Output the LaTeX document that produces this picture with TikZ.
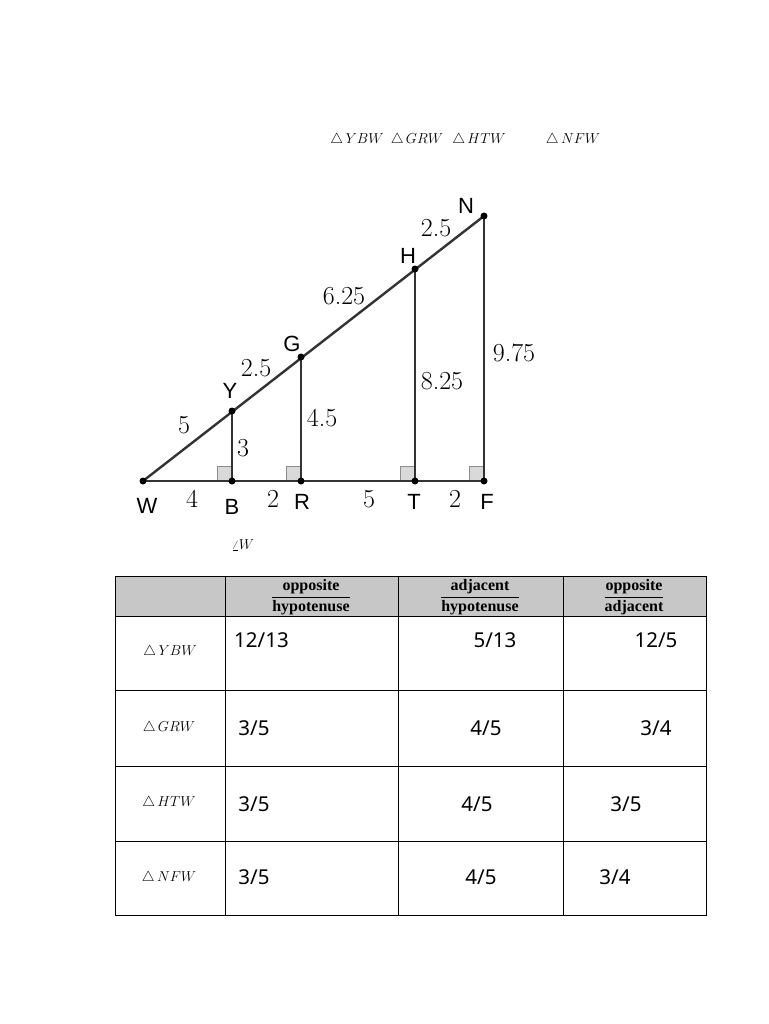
\documentclass[tikz,border=0pt]{standalone}
\usepackage{fontspec}
\setsansfont{Liberation Sans}
\newfontfamily\datafont{Noto Sans}
\newfontfamily\hdrfont{Liberation Serif}
\newcommand{\hfrac}[2]{\begin{tabular}{@{}c@{}}#1\\[2pt]\hline\rule{0pt}{14pt}#2\end{tabular}}
\begin{document}
\begin{tikzpicture}[x=1pt,y=-1pt,
  seg/.style={draw=black!80,line width=2.4pt},
  dotpt/.style={circle,fill=black,inner sep=0pt,minimum size=7pt},
  ptlabel/.style={font=\sffamily\fontsize{22}{22}\selectfont,inner sep=0pt},
  numlabel/.style={font=\fontsize{26}{26}\selectfont,inner sep=0pt},
  rtbox/.style={fill=black!15,draw=black!45,line width=0.6pt},
  toptri/.style={font=\fontsize{13.5}{13.5}\selectfont,inner sep=0pt},
  rowlab/.style={font=\fontsize{14}{14}\selectfont,inner sep=0pt},
  hdr/.style={font=\hdrfont\bfseries\fontsize{16}{16}\selectfont,inner sep=0pt},
  cell/.style={font=\datafont\fontsize{20.5}{20.5}\selectfont,inner sep=0pt},
  grid/.style={draw=black,line width=0.9pt}]
\useasboundingbox (0,0) rectangle (768,1024);
\fill[white] (0,0) rectangle (768,1024);

% header triangle names
\node[toptri] (t1) at (357,140) {$\triangle\,YBW$};
\node[toptri] (t2) at (417,140) {$\triangle\,GRW$};
\node[toptri] (t3) at (479,140) {$\triangle\,HTW$};
\node[toptri] (t4) at (573,140) {$\triangle\,NFW$};

% points
\coordinate (W) at (143,481);
\coordinate (B) at (232,481);
\coordinate (R) at (301,481);
\coordinate (T) at (415,481);
\coordinate (F) at (484,481);
\coordinate (Y) at (232,411);
\coordinate (G) at (301,357);
\coordinate (H) at (415,269);
\coordinate (N) at (484,216);

% right-angle marks
\draw[rtbox] (217,466) rectangle (B);
\draw[rtbox] (286,466) rectangle (R);
\draw[rtbox] (400,466) rectangle (T);
\draw[rtbox] (469,466) rectangle (F);

% segments
\draw[seg] (W) -- (F);
\draw[seg] (W) -- (N);
\draw[seg] (Y) -- (B);
\draw[seg] (G) -- (R);
\draw[seg] (H) -- (T);
\draw[seg] (N) -- (F);

\foreach \p in {W,B,R,T,F,Y,G,H,N} \node[dotpt] at (\p) {};

% point labels
\node[ptlabel] (lN) at (466,206) {N};
\node[ptlabel] (lH) at (408,256) {H};
\node[ptlabel] (lG) at (292,344) {G};
\node[ptlabel] (lY) at (230,391) {Y};
\node[ptlabel] (lW) at (147,506) {W};
\node[ptlabel] (lB) at (232,507) {B};
\node[ptlabel] (lR) at (302,502) {R};
\node[ptlabel] (lT) at (414,502) {T};
\node[ptlabel] (lF) at (487,502) {F};

% length labels
\node[numlabel] (n1) at (436,228) {2.5};
\node[numlabel] (n2) at (344,296) {6.25};
\node[numlabel] (n3) at (256,368) {2.5};
\node[numlabel] (n4) at (184,425) {5};
\node[numlabel] (n5) at (243,448) {3};
\node[numlabel] (n6) at (322,418) {4.5};
\node[numlabel] (n7) at (442,381) {8.25};
\node[numlabel] (n8) at (514,353) {9.75};
\node[numlabel] (n9) at (192,499) {4};
\node[numlabel] (n10) at (273,499) {2};
\node[numlabel] (n11) at (369,499) {5};
\node[numlabel] (n12) at (455,499) {2};

% angle
\node[toptri] (ang) at (243,545) {$\angle W$};

% table
\fill[black!22] (115,576) rectangle (706,616);
\draw[grid] (115,576) rectangle (706,915);
\foreach \yy in {616,690,766,841} \draw[grid] (115,\yy) -- (706,\yy);
\foreach \xx in {225,398,563} \draw[grid] (\xx,576) -- (\xx,915);

\node[hdr] (h1) at (311,597.5) {\hfrac{opposite}{hypotenuse}};
\node[hdr] (h2) at (480,597.5) {\hfrac{adjacent}{hypotenuse}};
\node[hdr] (h3) at (634,597.5) {\hfrac{opposite}{adjacent}};

\node[rowlab] (r1) at (170,652) {$\triangle\,YBW$};
\node[rowlab] (r2) at (169,728) {$\triangle\,GRW$};
\node[rowlab] (r3) at (169,803) {$\triangle\,HTW$};
\node[rowlab] (r4) at (169,878) {$\triangle\,NFW$};

\node[cell,anchor=west] (c11) at (234,640) {12/13};
\node[cell] (c12) at (495,640) {5/13};
\node[cell] (c13) at (656,640) {12/5};
\node[cell] (c21) at (254,728) {3/5};
\node[cell] (c22) at (486,728) {4/5};
\node[cell] (c23) at (656,728) {3/4};
\node[cell] (c31) at (254,804) {3/5};
\node[cell] (c32) at (477,804) {4/5};
\node[cell] (c33) at (626,804) {3/5};
\node[cell] (c41) at (254,877) {3/5};
\node[cell] (c42) at (481,877) {4/5};
\node[cell] (c43) at (615,877) {3/4};
\end{tikzpicture}
\end{document}
